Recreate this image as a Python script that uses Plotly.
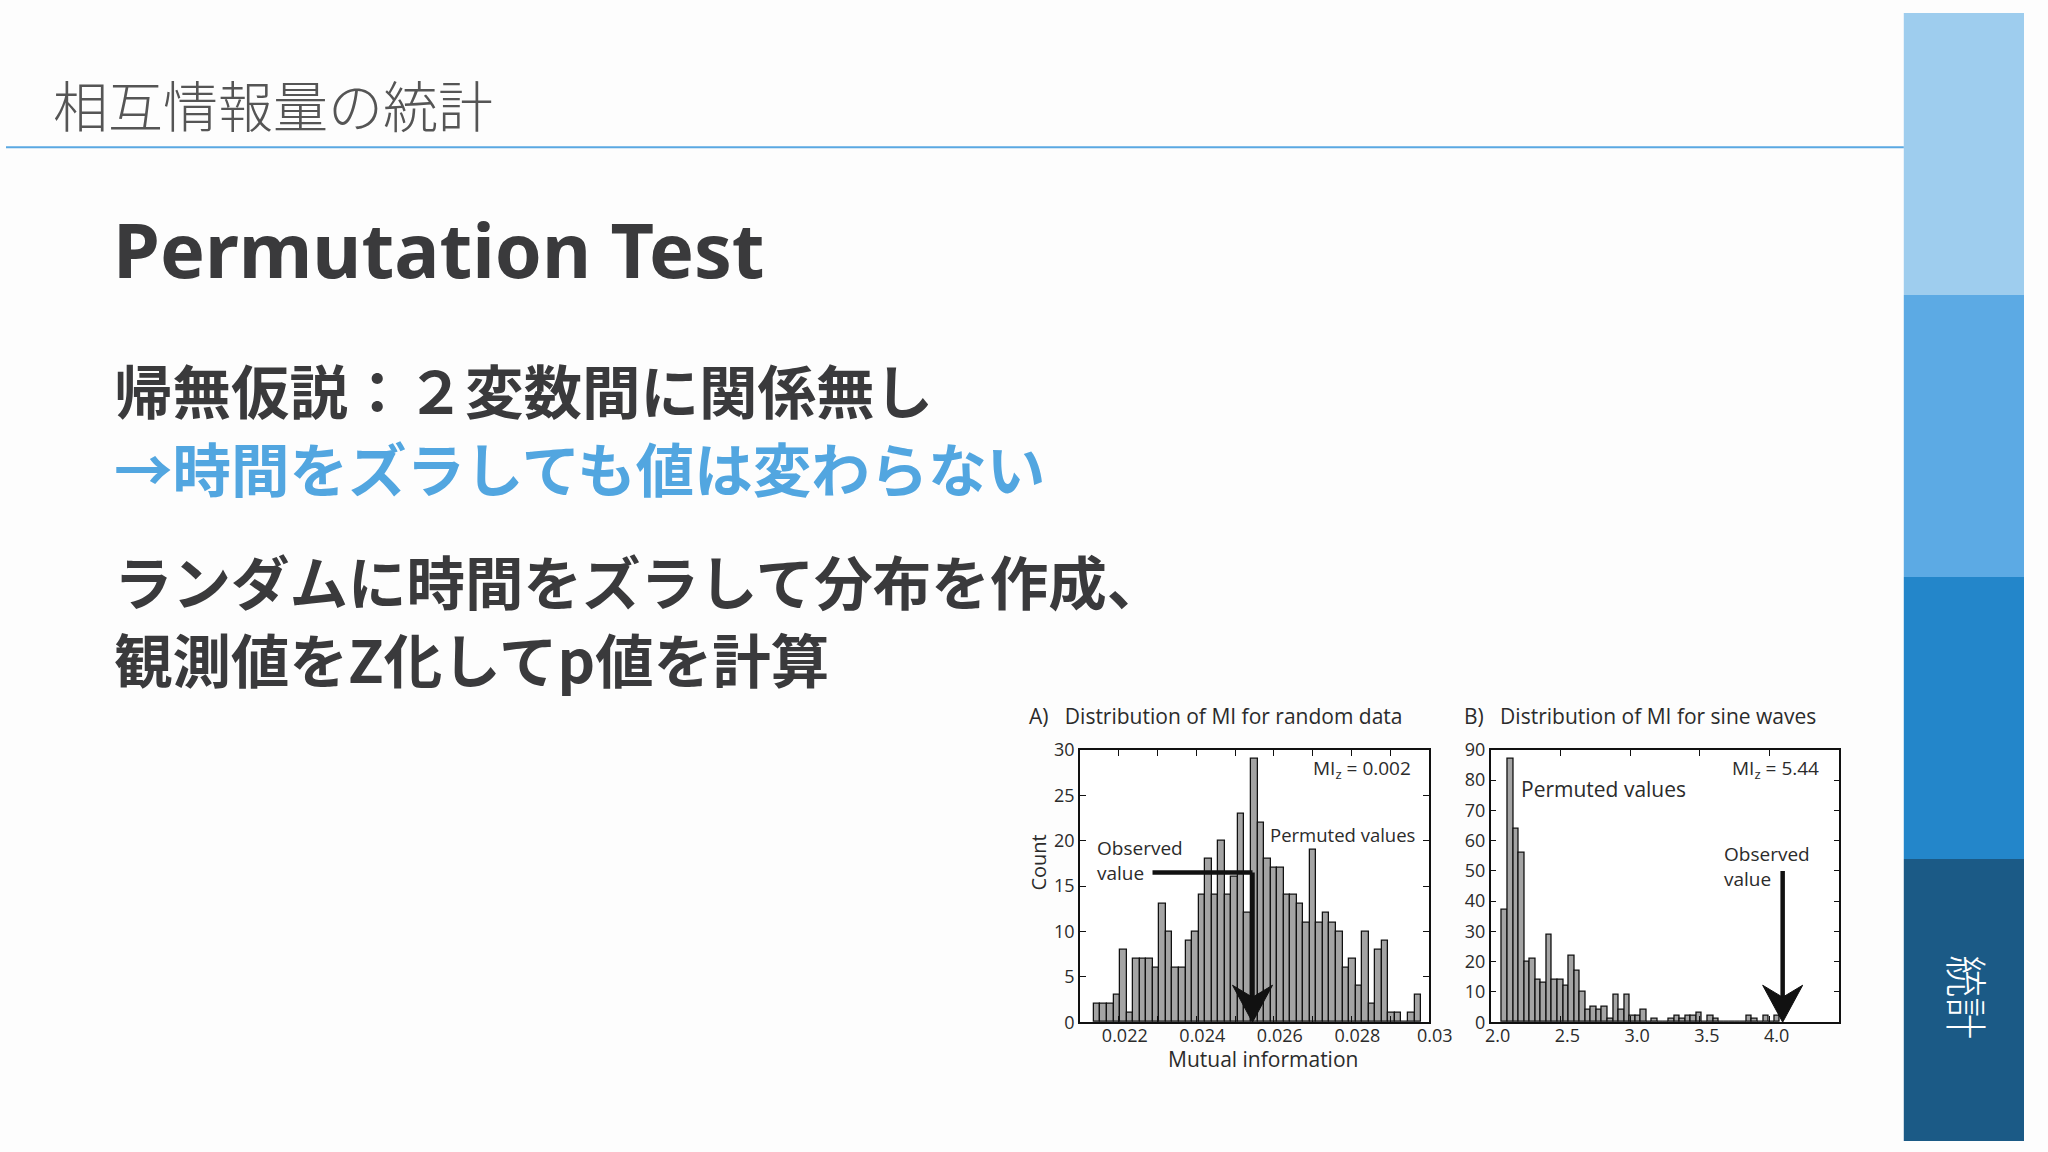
import plotly.graph_objects as go

W, H = 2048, 1152

# ---------------- data ----------------
# Panel A: permuted MI values for random data (50 histogram bins)
random_counts = [2, 2, 2, 3, 8, 1, 7, 7, 7, 6, 13, 10, 6, 6, 9, 10, 14, 18, 14, 20,
                 14, 16, 23, 12, 29, 22, 18, 17, 17, 14, 14, 13, 11, 19, 11, 12, 11, 10, 6, 7,
                 4, 10, 2, 8, 9, 1, 1, 0, 1, 3]
random_min, random_max = 0.02136, 0.02980
random_observed = 0.02545
random_observed_level = 16.5
random_mi_z = "0.002"
random_xticks = [0.022, 0.024, 0.026, 0.028, 0.030]
random_xticklabels = ["0.022", "0.024", "0.026", "0.028", "0.03"]
random_xminor = [0.021, 0.023, 0.025, 0.027, 0.029]
random_yticks = [0, 5, 10, 15, 20, 25, 30]

# Panel B: permuted MI values for sine waves (50 histogram bins)
sine_counts = [37, 87, 64, 56, 20, 21, 14, 13, 29, 14, 14, 12, 22, 17, 10, 4, 5, 4, 5, 1,
               9, 4, 9, 2, 2, 4, 0, 1, 0, 0, 1, 2, 1, 2, 2, 3, 0, 2, 1, 0,
               0, 0, 0, 0, 2, 1, 0, 2, 0, 2]
sine_min, sine_max = 2.082, 4.073
sine_observed = 4.093
sine_observed_level = 50
sine_mi_z = "5.44"
sine_xticks = [2.0, 2.5, 3.0, 3.5, 4.0]
sine_xticklabels = ["2.0", "2.5", "3.0", "3.5", "4.0"]
sine_yticks = [0, 10, 20, 30, 40, 50, 60, 70, 80, 90]

# ---------------- helpers ----------------
def px(x):
    return x / W

def py(y):
    return 1 - y / H

def bins(counts, lo, hi):
    n = len(counts)
    w = (hi - lo) / n
    centers = [lo + (i + 0.5) * w for i in range(n)]
    return centers, w

FIG_FONT = "Open Sans"
INK = "#2b2b2b"
BAR = "#a4a4a4"
BLACK = "#111111"

fig = go.Figure()
ca, wa = bins(random_counts, random_min, random_max)
cb, wb = bins(sine_counts, sine_min, sine_max)

fig.add_trace(go.Bar(x=ca, y=random_counts, width=wa, xaxis="x", yaxis="y",
                     marker=dict(color=BAR, line=dict(color=BLACK, width=1.3)),
                     hoverinfo="x+y", showlegend=False))
fig.add_trace(go.Bar(x=cb, y=sine_counts, width=wb, xaxis="x2", yaxis="y2",
                     marker=dict(color=BAR, line=dict(color=BLACK, width=1.3)),
                     hoverinfo="x+y", showlegend=False))

axis_common = dict(showline=True, linecolor=BLACK, linewidth=1.6, mirror="ticks",
                   ticks="inside", ticklen=6, tickwidth=1.3, tickcolor=BLACK,
                   showgrid=False, zeroline=False,
                   tickfont=dict(family=FIG_FONT, size=18, color=INK))

ydom = [py(1030.7), py(752.5)]
fig.update_layout(
    xaxis=dict(domain=[px(1090), px(1444)], range=[0.021, 0.030],
               tickmode="array", tickvals=random_xticks, ticktext=random_xticklabels,
               minor=dict(tickmode="array", tickvals=random_xminor, ticks="inside",
                          ticklen=6, tickwidth=1.3, tickcolor=BLACK, showgrid=False),
               ticklabelshift=6, ticklabelstandoff=-4, anchor="y", **axis_common),
    yaxis=dict(domain=ydom, range=[0, 30], tickmode="array", tickvals=random_yticks,
               anchor="x", **axis_common),
    xaxis2=dict(domain=[px(1506.7), px(1860.7)], range=[2.0, 4.5],
                tickmode="array", tickvals=sine_xticks, ticktext=sine_xticklabels,
                ticklabelshift=7, ticklabelstandoff=-4, anchor="y2", **axis_common),
    yaxis2=dict(domain=ydom, range=[0, 90], tickmode="array", tickvals=sine_yticks,
                anchor="x2", **axis_common),
    bargap=0,
)

shapes = []
annotations = []

# sidebar blocks
side_cols = ["#9ecdee", "#5caae4", "#2386ca", "#1b5a86"]
for i, c in enumerate(side_cols):
    shapes.append(dict(type="rect", xref="paper", yref="paper",
                       x0=px(1926), x1=1.0, y0=py(288 * (i + 1)), y1=py(288 * i),
                       fillcolor=c, line=dict(width=0), layer="below"))
# title underline
shapes.append(dict(type="line", xref="paper", yref="paper", x0=0, x1=px(1926),
                   y0=py(137), y1=py(137), line=dict(color="#5aa8e2", width=2)))

# observed-value arrows
HEAD = "M0,0 L-20,37 L0,25 L20,37 Z"
shapes.append(dict(type="line", xref="x", yref="y", x0=0.02287, x1=random_observed,
                   y0=random_observed_level, y1=random_observed_level,
                   line=dict(color=BLACK, width=4.5), layer="above"))
shapes.append(dict(type="line", xref="x", yref="y", x0=random_observed, x1=random_observed,
                   y0=random_observed_level, y1=2.5,
                   line=dict(color=BLACK, width=4.5), layer="above"))
shapes.append(dict(type="path", xref="x", yref="y", xsizemode="pixel", ysizemode="pixel",
                   xanchor=random_observed, yanchor=0, path=HEAD,
                   fillcolor=BLACK, line=dict(color=BLACK, width=1), layer="above"))
shapes.append(dict(type="line", xref="x2", yref="y2", x0=sine_observed, x1=sine_observed,
                   y0=sine_observed_level, y1=7.5,
                   line=dict(color=BLACK, width=4.5), layer="above"))
shapes.append(dict(type="path", xref="x2", yref="y2", xsizemode="pixel", ysizemode="pixel",
                   xanchor=sine_observed, yanchor=0, path=HEAD,
                   fillcolor=BLACK, line=dict(color=BLACK, width=1), layer="above"))

def txt(text, x, y, size, color, family, xanchor="left", yanchor="middle",
        weight=None, angle=0):
    f = dict(family=family, size=size, color=color)
    if weight is not None:
        f["weight"] = weight
    annotations.append(dict(text=text, x=px(x), y=py(y), xref="paper", yref="paper",
                            xanchor=xanchor, yanchor=yanchor, showarrow=False,
                            font=f, textangle=angle, align="left"))

JP = "Noto Sans CJK JP"
DARK = "#3a3a3c"

# slide texts
txt("相互情報量の統計", 46, 92, 55, "#555555", JP, weight=300)
txt("Permutation Test", 107, 240, 75.5, DARK, "Noto Sans", weight=700)
txt("帰無仮説：２変数間に関係無し", 108, 384, 58.5, DARK, JP, weight=700)
txt("→時間をズラしても値は変わらない", 108, 463, 58.5, "#52a6e0", JP, weight=700)
txt("ランダムに時間をズラして分布を作成、", 108, 579, 58.5, DARK, JP, weight=700)
txt("観測値をZ化してp値を計算", 108, 658, 58.5, DARK, JP, weight=700)
txt("統計", 1992, 1005, 42, "#ffffff", JP, xanchor="center", weight=300, angle=90)

# figure texts
sp = "\u00a0\u00a0\u00a0"
txt("A)" + sp + "Distribution of MI for random data", 1036, 718, 21, INK, FIG_FONT)
txt("B)" + sp + "Distribution of MI for sine waves", 1478, 718, 21, INK, FIG_FONT)
txt("Count", 1048, 868, 20, INK, FIG_FONT, xanchor="center", angle=-90)
txt("Mutual information", 1276, 1068, 21, INK, FIG_FONT, xanchor="center")

txt("MI<sub>z</sub> = " + random_mi_z, 1428, 772, 19, INK, FIG_FONT, xanchor="right")
txt("Permuted values", 1432, 839, 18.5, INK, FIG_FONT, xanchor="right")
txt("Observed<br>value", 1105, 866, 19, INK, FIG_FONT)

txt("MI<sub>z</sub> = " + sine_mi_z, 1842, 772, 19, INK, FIG_FONT, xanchor="right")
txt("Permuted values", 1535, 792, 21, INK, FIG_FONT)
txt("Observed<br>value", 1742, 872, 19, INK, FIG_FONT)

fig.update_layout(
    width=W, height=H, margin=dict(l=0, r=0, t=0, b=0),
    paper_bgcolor="#fdfdfd", plot_bgcolor="#ffffff",
    shapes=shapes, annotations=annotations, showlegend=False,
)

fig.write_html(
    "out.html",
    config={"displayModeBar": False},
    post_script=(
        "document.documentElement.style.margin='0';"
        "document.documentElement.style.padding='0';"
        "document.documentElement.style.overflow='hidden';"
        "document.body.style.margin='0';"
        "document.body.style.padding='0';"
        "document.body.style.overflow='hidden';"
        "var d=document.getElementById('{plot_id}');"
        "d.style.position='fixed';d.style.left='0px';d.style.top='0px';"
    ),
)
